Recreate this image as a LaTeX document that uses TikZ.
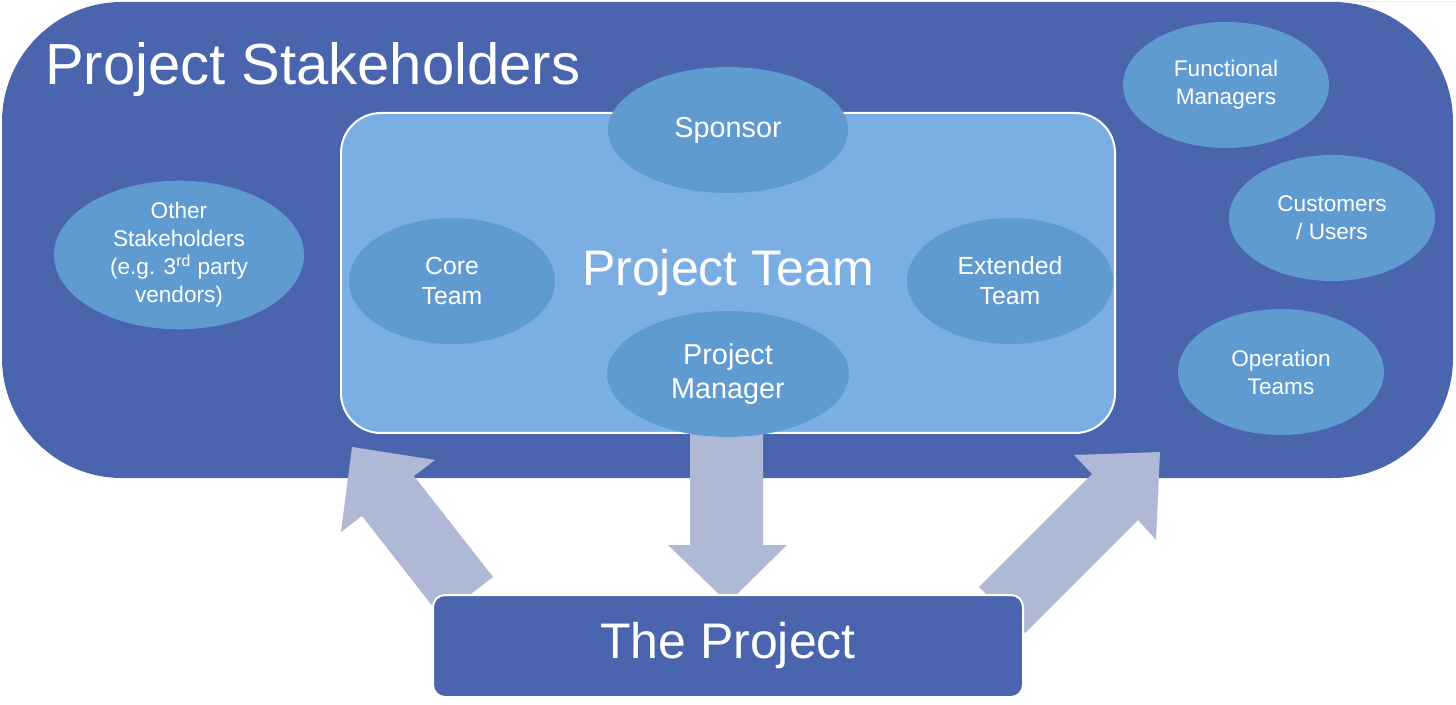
\documentclass[tikz,border=0pt]{standalone}
\usepackage{fontspec}
\setmainfont{Liberation Sans}
\definecolor{dkb}{HTML}{4A65AD}
\definecolor{ltb}{HTML}{7BAEE3}
\definecolor{elb}{HTML}{5F9BD0}
\definecolor{arb}{HTML}{AFB8D4}
\begin{document}
\begin{tikzpicture}[x=0.5pt,y=-0.5pt,
 ell/.style={ellipse, fill=elb, text=white, align=center, font=\fontsize{11.3}{14}\selectfont, inner sep=0pt},
 big/.style={font=\fontsize{14.4}{17}\selectfont},
 mid/.style={font=\fontsize{12.4}{15}\selectfont},
 arr/.style={fill=arb}]
\usetikzlibrary{shapes.geometric}
\useasboundingbox (0,0) rectangle (1456,705);
\fill[dkb, rounded corners=45] (2,2) -- (1390,2) [rounded corners=60] -- (1453,2) -- (1453,478) -- (2,478) -- cycle;
\node[anchor=west, text=white, font=\fontsize{29}{32}\selectfont] (title) at (38,70) {Project Stakeholders};
% arrows
\fill[arr] (690,430)--(763,430)--(763,545)--(787,545)--(728,603)--(668,545)--(690,545)--cycle;
\fill[arr] (493,577)--(414,476)--(435,460)--(352,447)--(341,532)--(362,516)--(441,617)--cycle;
\fill[arr] (1025,633)--(1138,520)--(1156,540)--(1160,452)--(1074,455)--(1092,474)--(979,587)--cycle;
\node[draw=white, line width=1pt, fill=ltb, rounded corners=20, minimum width=387pt, minimum height=160pt] (team) at (728,273) {};
\node[text=white, font=\fontsize{25}{28}\selectfont] (teamlbl) at (728,273) {Project Team};
\node[ell, big, minimum width=120pt, minimum height=63pt] (sp) at (728,130) {Sponsor};
\node[ell, mid, minimum width=103pt, minimum height=63pt] (core) at (452,281) {Core\\Team};
\node[ell, mid, minimum width=103pt, minimum height=63pt] (ext) at (1010,281) {Extended\\Team};
\node[ell, big, minimum width=121pt, minimum height=63pt] (pm) at (728,374) {Project\\Manager};
\node[ell, minimum width=125pt, minimum height=63pt] (oth) at (179,255) {Other\\Stakeholders\\(e.g. 3\textsuperscript{rd} party\\vendors)};
\node[ell, minimum width=103pt, minimum height=63pt] (fm) at (1226,85) {Functional\\Managers};
\node[ell, minimum width=103pt, minimum height=63pt] (cu) at (1332,218) {Customers\\/ Users};
\node[ell, minimum width=103pt, minimum height=63pt] (op) at (1281,372) {Operation\\Teams};
\node[draw=white, line width=1pt, fill=dkb, rounded corners=6, minimum width=295pt, minimum height=51pt, text=white, font=\fontsize{25}{28}\selectfont] (proj) at (728,646) {The Project};
\end{tikzpicture}
\end{document}
